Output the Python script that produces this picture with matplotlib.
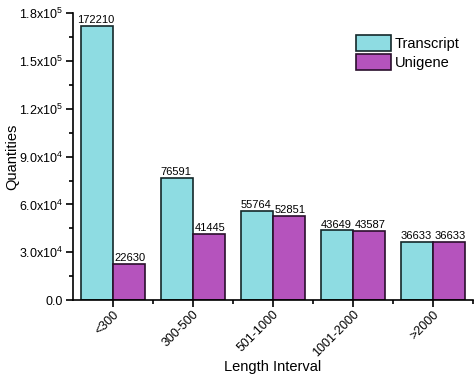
import matplotlib.pyplot as plt
import numpy as np
from matplotlib.patches import Patch
from matplotlib.ticker import FixedLocator, MultipleLocator

categories = ["<300", "300-500", "501-1000", "1001-2000", ">2000"]
transcript = [172210, 76591, 55764, 43649, 36633]
unigene = [22630, 41445, 52851, 43587, 36633]
ytick_values = [0, 30000, 60000, 90000, 120000, 150000, 180000]
ytick_labels = ["0.0", "$3.0\\mathrm{x}10^4$", "$6.0\\mathrm{x}10^4$", "$9.0\\mathrm{x}10^4$",
                "$1.2\\mathrm{x}10^5$", "$1.5\\mathrm{x}10^5$", "$1.8\\mathrm{x}10^5$"]

plt.rcParams["font.family"] = ["Liberation Sans", "DejaVu Sans"]
plt.rcParams["mathtext.fontset"] = "custom"
plt.rcParams["mathtext.rm"] = "Liberation Sans"
plt.rcParams["mathtext.it"] = "Liberation Sans"

cyan = "#8EDCE2"
purple = "#B553BD"
edge = "#14282a"

fig = plt.figure(figsize=(4.74, 3.76), dpi=100)
ax = fig.add_axes([0.154, 0.202, 0.844, 0.763])

x = np.arange(1, len(categories) + 1)
w = 0.4
ax.bar(x - w / 2, transcript, w, color=cyan, edgecolor=edge, linewidth=1.2)
ax.bar(x + w / 2, unigene, w, color=purple, edgecolor="#2a0f2c", linewidth=1.2)

for xi, t, u in zip(x, transcript, unigene):
    ax.text(xi - w / 2 - 0.01, t + 500, str(t), ha="center", va="bottom", fontsize=8)
    ax.text(xi + w / 2 + 0.01, u + 500, str(u), ha="center", va="bottom", fontsize=8)

ax.set_xlim(0.5, 5.5)
ax.set_ylim(0, 180000)
ax.set_xticks(x)
ax.set_xticklabels(categories, rotation=45, ha="right", rotation_mode="anchor", fontsize=9)
ax.xaxis.set_minor_locator(FixedLocator(x + 0.5))
ax.set_yticks(ytick_values)
ax.set_yticklabels(ytick_labels, fontsize=9)
ax.yaxis.set_minor_locator(MultipleLocator(15000))

for side in ["top", "right"]:
    ax.spines[side].set_visible(False)
for side in ["left", "bottom"]:
    ax.spines[side].set_linewidth(1.2)
ax.tick_params(axis="both", which="major", length=5, width=1.2, direction="out")
ax.tick_params(axis="both", which="minor", length=3, width=1.2, direction="out")
ax.tick_params(axis="x", which="major", pad=1)
ax.tick_params(axis="y", which="major", pad=2)

ax.set_ylabel("Quantities", fontsize=10.5)
ax.yaxis.set_label_coords(-0.135, 0.5)
ax.set_xlabel("Length Interval", fontsize=10.5)
ax.xaxis.set_label_coords(0.5, -0.21)

handles = [Patch(facecolor=cyan, edgecolor=edge, linewidth=1.2, label="Transcript"),
           Patch(facecolor=purple, edgecolor="#2a0f2c", linewidth=1.2, label="Unigene")]
ax.legend(handles=handles, loc="upper right", bbox_to_anchor=(1.0, 0.97), frameon=False,
          fontsize=10.5, handlelength=2.4, handleheight=1.3, handletextpad=0.3,
          labelspacing=0.2)

fig.savefig("out.png", dpi=100)
